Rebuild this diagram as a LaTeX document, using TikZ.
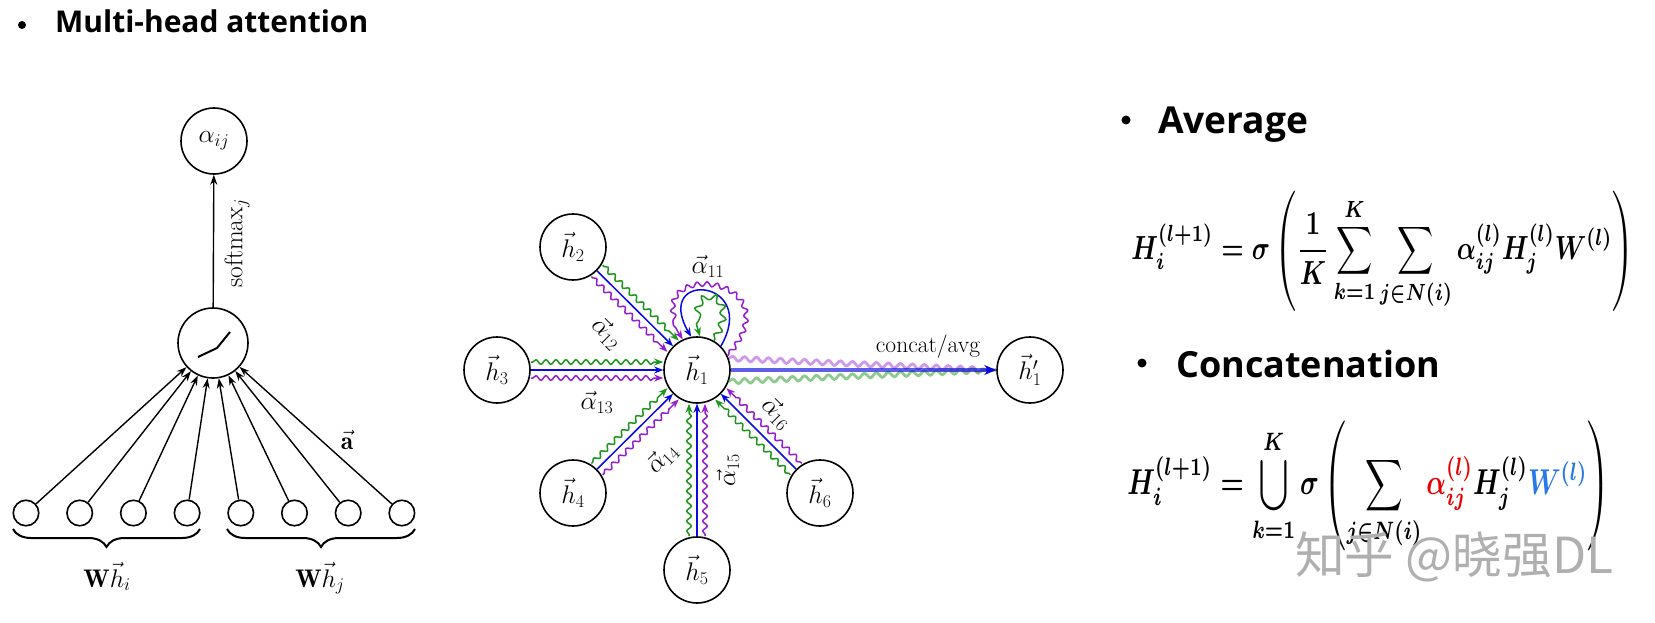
\RequirePackage{fix-cm}
\documentclass[tikz,border=0pt]{standalone}
\usepackage{amsmath}
\usepackage{fontspec}
\usepackage{graphicx}
\usetikzlibrary{arrows.meta,decorations.pathmorphing,decorations.pathreplacing,calc}
\newfontfamily\titlefont{Open Sans}
\newfontfamily\cjk{Noto Sans CJK SC}
\definecolor{eblue}{RGB}{10,10,220}
\definecolor{egreen}{RGB}{30,150,30}
\definecolor{epurple}{RGB}{150,30,210}
\definecolor{fred}{RGB}{230,0,0}
\definecolor{fblue}{RGB}{40,120,230}
\definecolor{wm}{RGB}{175,175,175}
\begin{document}
\begin{tikzpicture}[x=1pt,y=1pt,
  every node/.style={inner sep=0pt},
  bignode/.style={circle,draw,line width=1.6pt,minimum size=66pt,inner sep=0pt,font=\fontsize{25.5}{30}\selectfont},
  smallnode/.style={circle,draw,line width=1.6pt,minimum size=25.5pt},
  lbl/.style={font=\fontsize{25.5}{30}\selectfont},
  arr/.style={-{Stealth[length=10pt,width=7pt]},line width=1.4pt},
  blueedge/.style={draw=eblue,line width=1.5pt,-{Stealth[length=9pt,width=7pt]}},
  snakeedge/.style={line width=1.5pt,-{Stealth[length=9pt,width=7pt]},decorate,
     decoration={snake,segment length=10pt,amplitude=2.3pt,pre length=2pt,post length=9pt}},
  gedge/.style={snakeedge,draw=egreen},
  pedge/.style={snakeedge,draw=epurple},
  bulletdot/.style={circle,fill,inner sep=0pt},
  brc/.style={decorate,decoration={brace,mirror,amplitude=18pt},line width=2pt}
]
\fill[white] (0,0) rectangle (1655,-623);
\path[use as bounding box] (0,0) rectangle (1655,-623);

% ---------- title ----------
\node[bulletdot,minimum size=8pt] (bu1) at (22,-25) {};
\node[anchor=base west] (ttl) at (55,-33) {\resizebox{313pt}{!}{\titlefont\bfseries Multi-head attention}};

% ---------- left diagram ----------
\node[bignode] (alpha) at (214,-141) {$\alpha_{ij}$};
\node[bignode,minimum size=70pt] (act) at (213,-343) {};
\draw[line width=2pt] ($(act)+(-15,-14)$) -- ($(act)+(4,-5)$) -- ($(act)+(17,11)$);
\draw[arr] (act) -- (alpha);
\node[lbl,rotate=90] (smx) at (237,-243) {$\mathrm{softmax}_j$};
\foreach \i in {1,...,8} {
  \node[smallnode] (b\i) at ({26+53.7*(\i-1)},-513) {};
  \draw[arr] (b\i) -- (act);
}
\node[lbl] (avec) at (347,-440) {$\vec{\mathbf{a}}$};
\coordinate (bl1) at (13,-529);
\coordinate (bl2) at (200,-529);
\coordinate (br1) at (227,-529);
\coordinate (br2) at (415,-529);
\draw[brc] (bl1) -- (bl2);
\draw[brc] (br1) -- (br2);
\node[lbl,anchor=base] (whi) at (107,-587) {$\mathbf{W}\vec{h}_i$};
\node[lbl,anchor=base] (whj) at (320,-587) {$\mathbf{W}\vec{h}_j$};

% ---------- middle graph ----------
\node[bignode] (h1) at (697,-370) {$\vec{h}_1$};
\node[bignode] (h2) at (573,-247) {$\vec{h}_2$};
\node[bignode] (h3) at (497,-370) {$\vec{h}_3$};
\node[bignode] (h4) at (573,-493) {$\vec{h}_4$};
\node[bignode] (h5) at (697,-570) {$\vec{h}_5$};
\node[bignode] (h6) at (820,-493) {$\vec{h}_6$};
\node[bignode] (h1p) at (1030,-370) {$\vec{h}'_1$};

\foreach \s/\gx/\gy/\px/\py in {h2/5.66/5.66/-5.66/-5.66, h3/0/8/0/-8, h4/-5.66/5.66/5.66/-5.66, h5/-8/0/8/0, h6/-5.66/-5.66/5.66/5.66} {
  \draw[blueedge] (\s) -- (h1);
  \draw[gedge,transform canvas={shift={(\gx,\gy)}}] (\s) -- (h1);
  \draw[pedge,transform canvas={shift={(\px,\py)}}] (\s) -- (h1);
}
% self loops
\draw[pedge] (h1.25) .. controls +(50:108) and +(125:98) .. (h1.115);
\draw[blueedge] (h1.45) .. controls +(60:78) and +(120:78) .. (h1.100);
\draw[gedge,decoration={snake,segment length=12pt,amplitude=3.2pt,pre length=2pt,post length=9pt}] (h1.60) .. controls +(60:58) and +(110:58) .. (h1.85);

% output edge
\draw[draw=epurple,draw opacity=.45,line width=2.8pt,decorate,decoration={snake,segment length=12pt,amplitude=2.4pt,post length=10pt}] (h1.20) -- (h1p.180);
\draw[draw=egreen,draw opacity=.5,line width=2.8pt,decorate,decoration={snake,segment length=12pt,amplitude=2.4pt,post length=10pt}] (h1.-20) -- (h1p.180);
\draw[draw=eblue,draw opacity=.65,line width=3.5pt] (h1) -- ($(h1p.180)+(-8,0)$);
\draw[draw=eblue,line width=1.3pt,-{Stealth[length=12pt,width=10pt]}] ($(h1p.180)+(-10,0)$) -- (h1p.180);

\node[lbl] (a11) at (708,-266) {$\vec{\alpha}_{11}$};
\node[lbl,rotate=-45] (a12) at (607,-333) {$\vec{\alpha}_{12}$};
\node[lbl] (a13) at (597,-402) {$\vec{\alpha}_{13}$};
\node[lbl,rotate=45] (a14) at (662,-458) {$\vec{\alpha}_{14}$};
\node[lbl,rotate=90] (a15) at (728,-470) {$\vec{\alpha}_{15}$};
\node[lbl,rotate=-45] (a16) at (777,-413) {$\vec{\alpha}_{16}$};
\node[font=\fontsize{23.5}{28}\selectfont] (cat) at (928,-347) {concat/avg};

% ---------- right side ----------
\node[bulletdot,minimum size=9pt] (bu2) at (1126,-120) {};
\node[anchor=base west] (tavg) at (1158,-134) {\resizebox{150pt}{!}{\titlefont\bfseries Average}};
\node (favg) at (1383,-251) {\scalebox{1}[1.33]{\resizebox{503pt}{!}{\boldmath$\displaystyle H_i^{(l+1)} = \sigma\left(\frac{1}{K}\sum_{k=1}^{K}\sum_{j\in N(i)}\alpha_{ij}^{(l)}H_j^{(l)}W^{(l)}\right)$}}};

\node[bulletdot,minimum size=9pt] (bu3) at (1142,-363) {};
\node[anchor=base west] (tcat) at (1176,-377) {\resizebox{264pt}{!}{\titlefont\bfseries Concatenation}};
\node (fcat) at (1369,-486) {\scalebox{1}[1.38]{\resizebox{483pt}{!}{\boldmath$\displaystyle H_i^{(l+1)} = \bigcup_{k=1}^{K}\sigma\left(\sum_{j\in N(i)}\textcolor{fred}{\alpha_{ij}^{(l)}}H_j^{(l)}\textcolor{fblue}{W^{(l)}}\right)$}}};

\node[anchor=west,text=wm] (wmk) at (1295,-557) {\resizebox{318pt}{!}{\cjk 知乎\ @晓强DL}};
\end{tikzpicture}
\end{document}
